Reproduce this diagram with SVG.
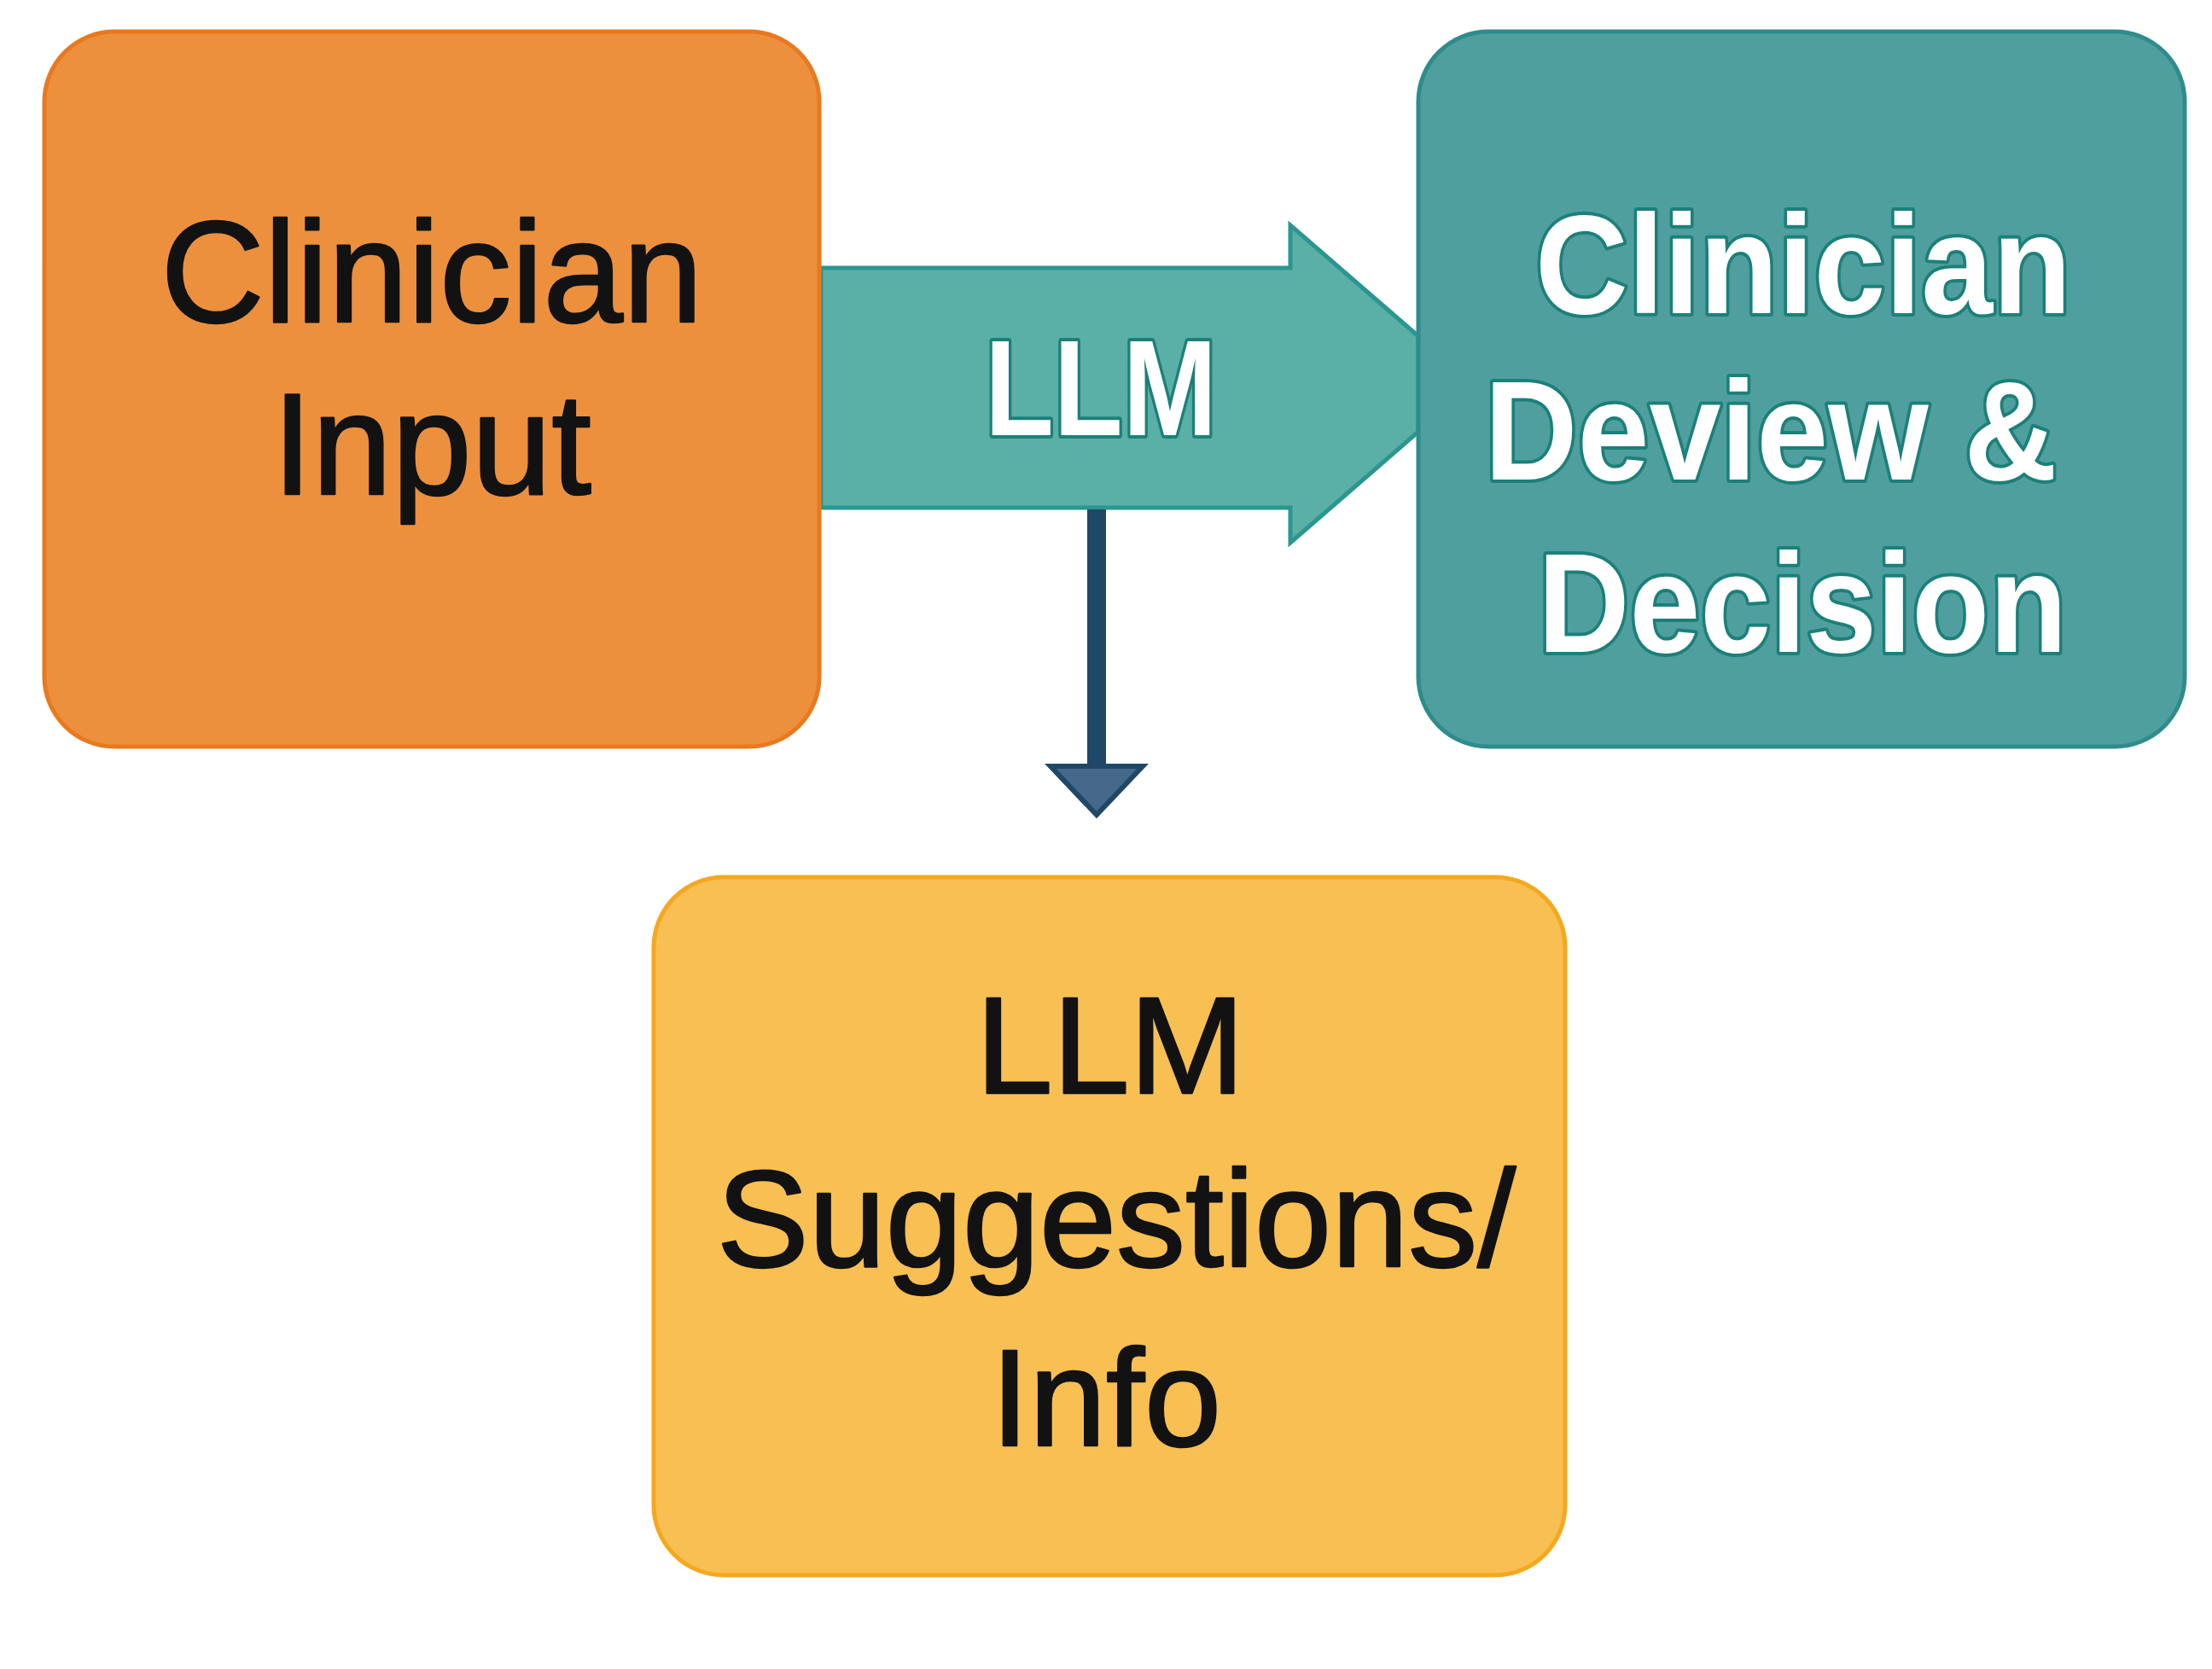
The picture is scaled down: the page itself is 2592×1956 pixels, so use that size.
<svg xmlns="http://www.w3.org/2000/svg" width="2592" height="1956" viewBox="0 0 2592 1956">
<style>
.lbl{font-family:"Liberation Sans",Arial,sans-serif;text-anchor:middle;paint-order:stroke;stroke-linejoin:round}
.dark{fill:#121212;stroke:#121212;stroke-width:2.5}
.light{fill:#ffffff;stroke:#1C8079;stroke-width:8;font-weight:bold}
</style>
<rect width="2592" height="1956" fill="#ffffff"/>
<g id="connectors">
  <polygon points="962,314 1512,314 1512,264 1662,394 1662,506 1512,636 1512,595 962,595" fill="#5AAFA7" stroke="#2A9690" stroke-width="5" stroke-linejoin="miter"/>
  <text class="lbl light" x="1290" y="510" font-size="160" textLength="272" lengthAdjust="spacingAndGlyphs">LLM</text>
  <line x1="1285" y1="597" x2="1285" y2="900" stroke="#1F4866" stroke-width="22"/>
  <polygon points="1231,898 1339,898 1285,955" fill="#46698A" stroke="#1F4866" stroke-width="6" stroke-linejoin="miter"/>
</g>
<g id="clinician-input">
  <rect x="52" y="37" width="908" height="838" rx="82" fill="#EC903E" stroke="#E8791E" stroke-width="5"/>
  <text class="lbl dark" x="506" y="377" font-size="168">Clinician</text>
  <text class="lbl dark" x="506" y="579" font-size="168">Input</text>
</g>
<g id="clinician-review">
  <rect x="1662" y="37" width="898" height="838" rx="82" fill="#4F9F9F" stroke="#2E8C8C" stroke-width="5"/>
  <text class="lbl light" x="2113" y="367" font-size="166" textLength="628" lengthAdjust="spacingAndGlyphs">Clinician</text>
  <text class="lbl light" x="2075" y="562" font-size="166" textLength="671" lengthAdjust="spacingAndGlyphs">Deview &amp;</text>
  <text class="lbl light" x="2112" y="764" font-size="166" textLength="620" lengthAdjust="spacingAndGlyphs">Decision</text>
</g>
<g id="llm-suggestions">
  <rect x="766" y="1028" width="1068" height="818" rx="82" fill="#F8BF52" stroke="#F5A81E" stroke-width="5"/>
  <text class="lbl dark" x="1301" y="1281" font-size="162">LLM</text>
  <text class="lbl dark" x="1308" y="1484" font-size="162">Suggestions/</text>
  <text class="lbl dark" x="1296" y="1694" font-size="162">Info</text>
</g>
</svg>
